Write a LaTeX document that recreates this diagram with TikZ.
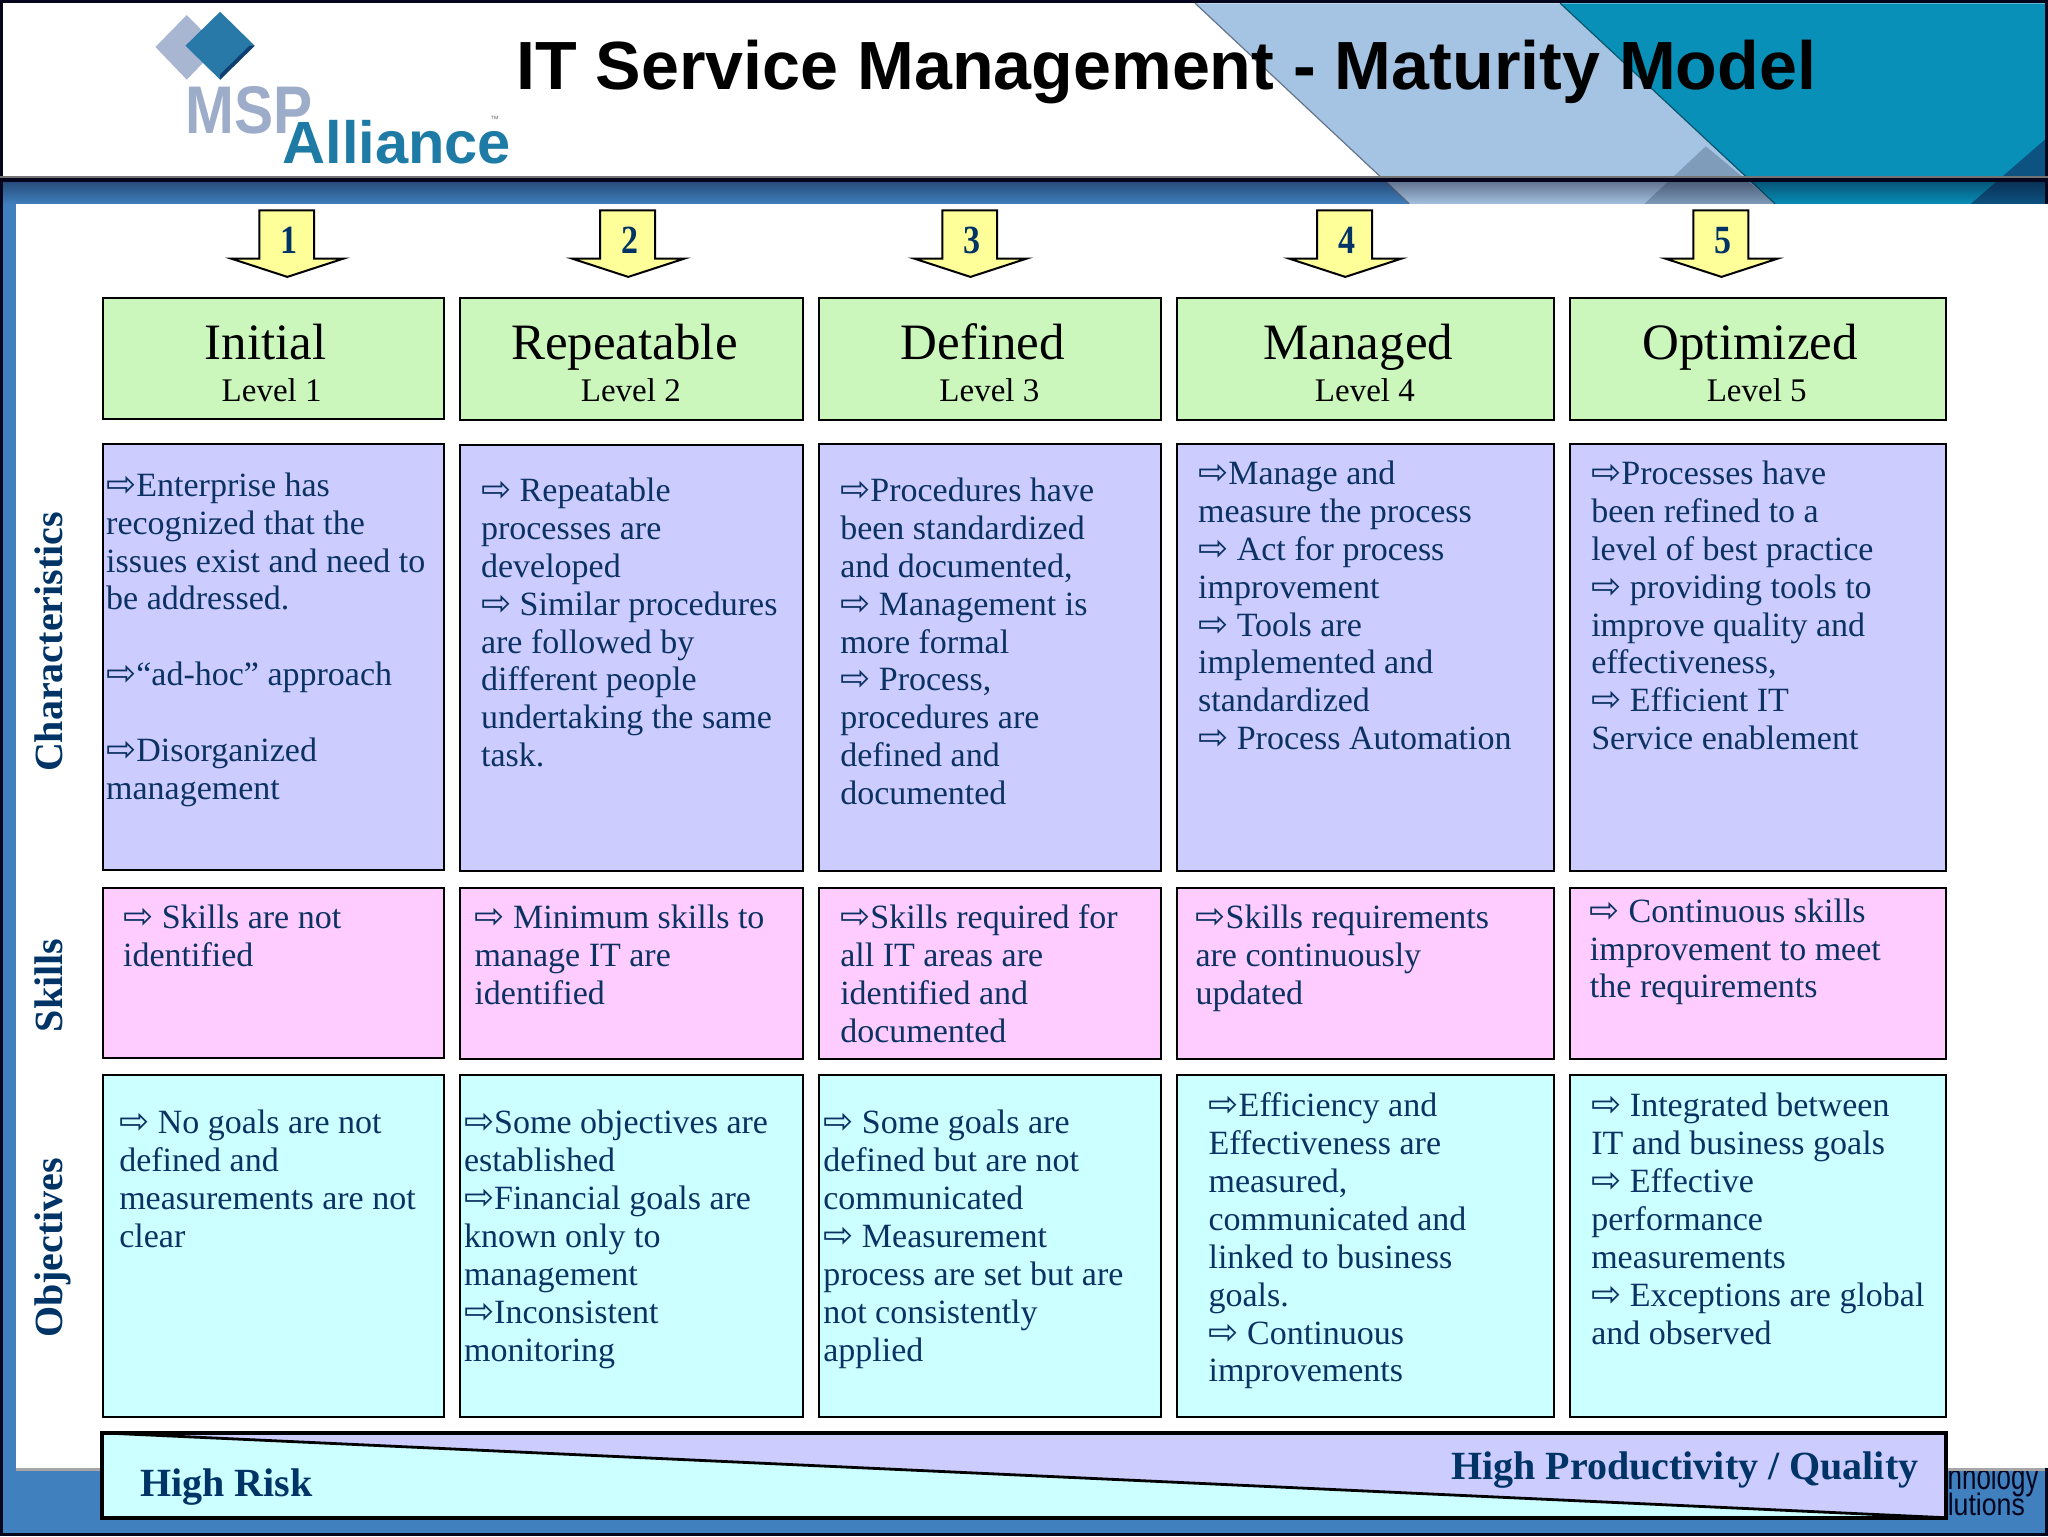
\documentclass[tikz,border=0pt]{standalone}
\usepackage{fontspec}
\usetikzlibrary{fadings}
\setmainfont{Liberation Serif}
\setsansfont{Liberation Sans}
\newfontfamily\arrowfont{DejaVu Sans}
\definecolor{navy}{HTML}{003366}
\definecolor{bodyink}{HTML}{0C3264}
\definecolor{edgeink}{HTML}{05051E}
\definecolor{bandblue}{HTML}{4080BE}
\definecolor{teal1}{HTML}{0890B8}
\definecolor{stripe}{HTML}{A5C3E2}
\definecolor{cgreen}{HTML}{CCF7BC}
\definecolor{cpurple}{HTML}{CCCCFF}
\definecolor{cpink}{HTML}{FFCCFF}
\definecolor{ccyan}{HTML}{CCFFFF}
\definecolor{cyellow}{HTML}{FFFF99}
\definecolor{logolight}{HTML}{A8B6D2}
\definecolor{logotext}{HTML}{9DACC8}
\definecolor{logodark}{HTML}{2878A8}
\definecolor{logoedge}{HTML}{0F3F6F}
\definecolor{logoteal}{HTML}{1E7BA6}
\definecolor{stripegrey}{HTML}{7F9DBA}
\newcommand\ar{{\arrowfont\fontsize{18}{18}\selectfont\symbol{"21E8}}}
\newcommand\Ln[1]{\hbox{#1}}
\tikzset{
  bodytxt/.style={anchor=base west,inner sep=0pt,font=\fontsize{17}{18.94}\selectfont,text=bodyink},
  headtxt/.style={anchor=base,inner sep=0pt,font=\fontsize{25.5}{28}\selectfont},
  lvltxt/.style={anchor=base,inner sep=0pt,font=\fontsize{16.5}{18}\selectfont},
  sidetxt/.style={inner sep=0pt,rotate=90,anchor=base,font=\bfseries\fontsize{20}{22}\selectfont,text=navy},
  numtxt/.style={inner sep=0pt,anchor=base,xscale=0.85,font=\bfseries\fontsize{20}{22}\selectfont,text=navy},
  bandtxt/.style={inner sep=0pt,font=\bfseries\fontsize{20}{22}\selectfont,text=navy},
  levarrow/.style={draw=black,line width=1pt,fill=cyellow,miter limit=10},
}
\newcommand\levelarrow[2]{%
  \path[levarrow] (#1-21.5,161) -- (#1+20.5,161) -- (#1+20.5,198) -- (#1+43,198) -- (#1,212) -- (#1-43,198) -- (#1-21.5,198) -- cycle;
  \node[numtxt] (n#2) at (#1+1.5,194) {#2};
}
\begin{document}
\begin{tikzpicture}[x=0.65306pt,y=-0.65306pt]
\useasboundingbox (0,0) rectangle (1568,1176);
% backdrop
\fill[edgeink] (0,0) rectangle (1568,1176);
\fill[bandblue] (2.5,2.5) rectangle (1565.5,1174);
\fill[white] (2.5,2.5) rectangle (1565.5,135);
% stripes
\fill[stripe] (915,2.5) -- (1194.5,2.5) -- (1359,156) -- (1079,156) -- cycle;
\fill[teal1] (1194.5,2.5) -- (1565.5,2.5) -- (1565.5,156) -- (1359,156) -- cycle;
\fill[stripegrey] (1306,112) -- (1259,156) -- (1359,156) -- cycle;
\fill[logoedge!75!teal1] (1565.5,107) -- (1509,156) -- (1565.5,156) -- cycle;
\draw[stripe!60!black,line width=0.6pt] (915,2.5) -- (1079,156);
\draw[teal1!60!black,line width=0.6pt] (1194.5,2.5) -- (1359,156);
% header rule and shade
\fill[edgeink,opacity=0.42,path fading=south] (0,139) rectangle (1568,156.5);
\fill[black!55] (0,135) rectangle (1568,136.5);
\fill[edgeink] (0,136.5) rectangle (1568,139);
% clipped footer text lies under the white page
\node[anchor=base west,inner sep=0pt,xscale=0.72,font=\sffamily\fontsize{18}{20}\selectfont,text=edgeink] (t1) at (1491,1140) {nnology};
% white page
\fill[black!35] (12.5,1124) rectangle (1565.5,1126);
\fill[white] (12.5,156.5) rectangle (1568,1124);
% logo
\fill[logolight] (119,36) -- (143,11.5) -- (167,36) -- (143,61) -- cycle;
\fill[logodark] (168.5,9) -- (195,35) -- (168.5,61) -- (142,35) -- cycle;
\fill[logoedge] (168.5,61) -- (195,35) -- (191,35) -- (168.5,57) -- cycle;
\node[anchor=base west,inner sep=0pt,xscale=0.87,font=\sffamily\bfseries\fontsize{33.7}{36}\selectfont,text=logotext] (msp) at (142,102) {MSP};
\node[anchor=base west,inner sep=0pt,font=\sffamily\bfseries\fontsize{29.8}{31}\selectfont,text=logoteal] (alliance) at (216,125) {Alliance};
\node[anchor=base west,inner sep=0pt,font=\sffamily\fontsize{4.5}{5}\selectfont,text=black!50] (tm) at (375,94) {™};
% title
\node[anchor=base west,inner sep=0pt,font=\sffamily\bfseries\fontsize{34.1}{36}\selectfont,text=black] (title) at (395,68.5) {IT Service Management - Maturity Model};
% arrows
\levelarrow{220}{1}
\levelarrow{481}{2}
\levelarrow{743}{3}
\levelarrow{1030}{4}
\levelarrow{1318}{5}
% green
\fill[cgreen,draw=black,line width=1pt] (78.5,228) rectangle (340,321);
\fill[cgreen,draw=black,line width=1pt] (352.5,228.5) rectangle (614.5,321.5);
\fill[cgreen,draw=black,line width=1pt] (627,228.5) rectangle (888.5,321.5);
\fill[cgreen,draw=black,line width=1pt] (901.5,228.5) rectangle (1189.5,321.5);
\fill[cgreen,draw=black,line width=1pt] (1202,228.5) rectangle (1490,321.5);
\node[headtxt] (h1) at (203.5,275) {Initial};
\node[lvltxt] (l1) at (208,307.5) {Level 1};
\node[headtxt] (h2) at (478,275) {Repeatable};
\node[lvltxt] (l2) at (483,307.5) {Level 2};
\node[headtxt] (h3) at (752.5,275) {Defined};
\node[lvltxt] (l3) at (757.5,307.5) {Level 3};
\node[headtxt] (h4) at (1040,275) {Managed};
\node[lvltxt] (l4) at (1045,307.5) {Level 4};
\node[headtxt] (h5) at (1340,275) {Optimized};
\node[lvltxt] (l5) at (1345,307.5) {Level 5};
% purple
\fill[cpurple,draw=black,line width=1pt] (78.5,340) rectangle (340,666);
\fill[cpurple,draw=black,line width=1pt] (352.5,340.5) rectangle (614.5,667);
\fill[cpurple,draw=black,line width=1pt] (627,340) rectangle (888.5,666.5);
\fill[cpurple,draw=black,line width=1pt] (901.5,340) rectangle (1189.5,666.5);
\fill[cpurple,draw=black,line width=1pt] (1202,340) rectangle (1490,666.5);
\node[bodytxt] (p1) at (81,380) {\vtop{\Ln{\ar Enterprise has}\Ln{recognized that the}\Ln{issues exist and need to}\Ln{be addressed.}\Ln{}\Ln{\ar “ad-hoc” approach}\Ln{}\Ln{\ar Disorganized}\Ln{management}}};
\node[bodytxt] (p2) at (368,384) {\vtop{\Ln{\ar\ Repeatable}\Ln{processes are}\Ln{developed}\Ln{\ar\ Similar procedures}\Ln{are followed by}\Ln{different people}\Ln{undertaking the same}\Ln{task.}}};
\node[bodytxt] (p3) at (643,384) {\vtop{\Ln{\ar Procedures have}\Ln{been standardized}\Ln{and documented,}\Ln{\ar\ Management is}\Ln{more formal}\Ln{\ar\ Process,}\Ln{procedures are}\Ln{defined and}\Ln{documented}}};
\node[bodytxt] (p4) at (917,371) {\vtop{\Ln{\ar Manage and}\Ln{measure the process}\Ln{\ar\ Act for process}\Ln{improvement}\Ln{\ar\ Tools are}\Ln{implemented and}\Ln{standardized}\Ln{\ar\ Process Automation}}};
\node[bodytxt] (p5) at (1218,371) {\vtop{\Ln{\ar Processes have}\Ln{been refined to a}\Ln{level of best practice}\Ln{\ar\ providing tools to}\Ln{improve quality and}\Ln{effectiveness,}\Ln{\ar\ Efficient IT}\Ln{Service enablement}}};
% pink
\fill[cpink,draw=black,line width=1pt] (78.5,680) rectangle (340,810);
\fill[cpink,draw=black,line width=1pt] (352.5,680) rectangle (614.5,811);
\fill[cpink,draw=black,line width=1pt] (627,680) rectangle (888.5,811);
\fill[cpink,draw=black,line width=1pt] (901.5,680) rectangle (1189.5,811);
\fill[cpink,draw=black,line width=1pt] (1202,680) rectangle (1490,811);
\node[bodytxt] (s1) at (94,711) {\vtop{\Ln{\ar\ Skills are not}\Ln{identified}}};
\node[bodytxt] (s2) at (363,711) {\vtop{\Ln{\ar\ Minimum skills to}\Ln{manage IT are}\Ln{identified}}};
\node[bodytxt] (s3) at (643,711) {\vtop{\Ln{\ar Skills required for}\Ln{all IT areas are}\Ln{identified and}\Ln{documented}}};
\node[bodytxt] (s4) at (915,711) {\vtop{\Ln{\ar Skills requirements}\Ln{are continuously}\Ln{updated}}};
\node[bodytxt] (s5) at (1217,706) {\vtop{\Ln{\ar\ Continuous skills}\Ln{improvement to meet}\Ln{the requirements}}};
% cyan
\fill[ccyan,draw=black,line width=1pt] (78.5,823) rectangle (340,1085);
\fill[ccyan,draw=black,line width=1pt] (352.5,823) rectangle (614.5,1085);
\fill[ccyan,draw=black,line width=1pt] (627,823) rectangle (888.5,1085);
\fill[ccyan,draw=black,line width=1pt] (901.5,823) rectangle (1189.5,1085);
\fill[ccyan,draw=black,line width=1pt] (1202,823) rectangle (1490,1085);
\node[bodytxt] (o1) at (91,868) {\vtop{\Ln{\ar\ No goals are not}\Ln{defined and}\Ln{measurements are not}\Ln{clear}}};
\node[bodytxt] (o2) at (355,868) {\vtop{\Ln{\ar Some objectives are}\Ln{established}\Ln{\ar Financial goals are}\Ln{known only to}\Ln{management}\Ln{\ar Inconsistent}\Ln{monitoring}}};
\node[bodytxt] (o3) at (630,868) {\vtop{\Ln{\ar\ Some goals are}\Ln{defined but are not}\Ln{communicated}\Ln{\ar\ Measurement}\Ln{process are set but are}\Ln{not consistently}\Ln{applied}}};
\node[bodytxt] (o4) at (925,855) {\vtop{\Ln{\ar Efficiency and}\Ln{Effectiveness are}\Ln{measured,}\Ln{communicated and}\Ln{linked to business}\Ln{goals.}\Ln{\ar\ Continuous}\Ln{improvements}}};
\node[bodytxt] (o5) at (1218,855) {\vtop{\Ln{\ar\ Integrated between}\Ln{IT and business goals}\Ln{\ar\ Effective}\Ln{performance}\Ln{measurements}\Ln{\ar\ Exceptions are global}\Ln{and observed}}};
% side labels
\node[sidetxt] (cs) at (47.5,491.5) {Characteristics};
\node[sidetxt] (sk) at (47.5,754.5) {Skills};
\node[sidetxt] (ob) at (47.5,955.5) {Objectives};
% band
\fill[cpurple] (78,1097) rectangle (1490,1162);
\fill[ccyan] (78,1097) -- (1490,1162) -- (78,1162) -- cycle;
\draw[black,line width=1.4pt] (78,1097) -- (1490,1162);
\draw[black,line width=2pt] (78,1097) rectangle (1490,1162);
\node[bandtxt,anchor=base west] (hr) at (107,1146) {High Risk};
\node[bandtxt,anchor=base east] (hq) at (1469,1133) {High Productivity / Quality};
% footer text
\node[anchor=base west,inner sep=0pt,xscale=0.86,font=\sffamily\fontsize{15.5}{18}\selectfont,text=edgeink] (t2) at (1491,1160.5) {lutions};
\end{tikzpicture}
\end{document}
